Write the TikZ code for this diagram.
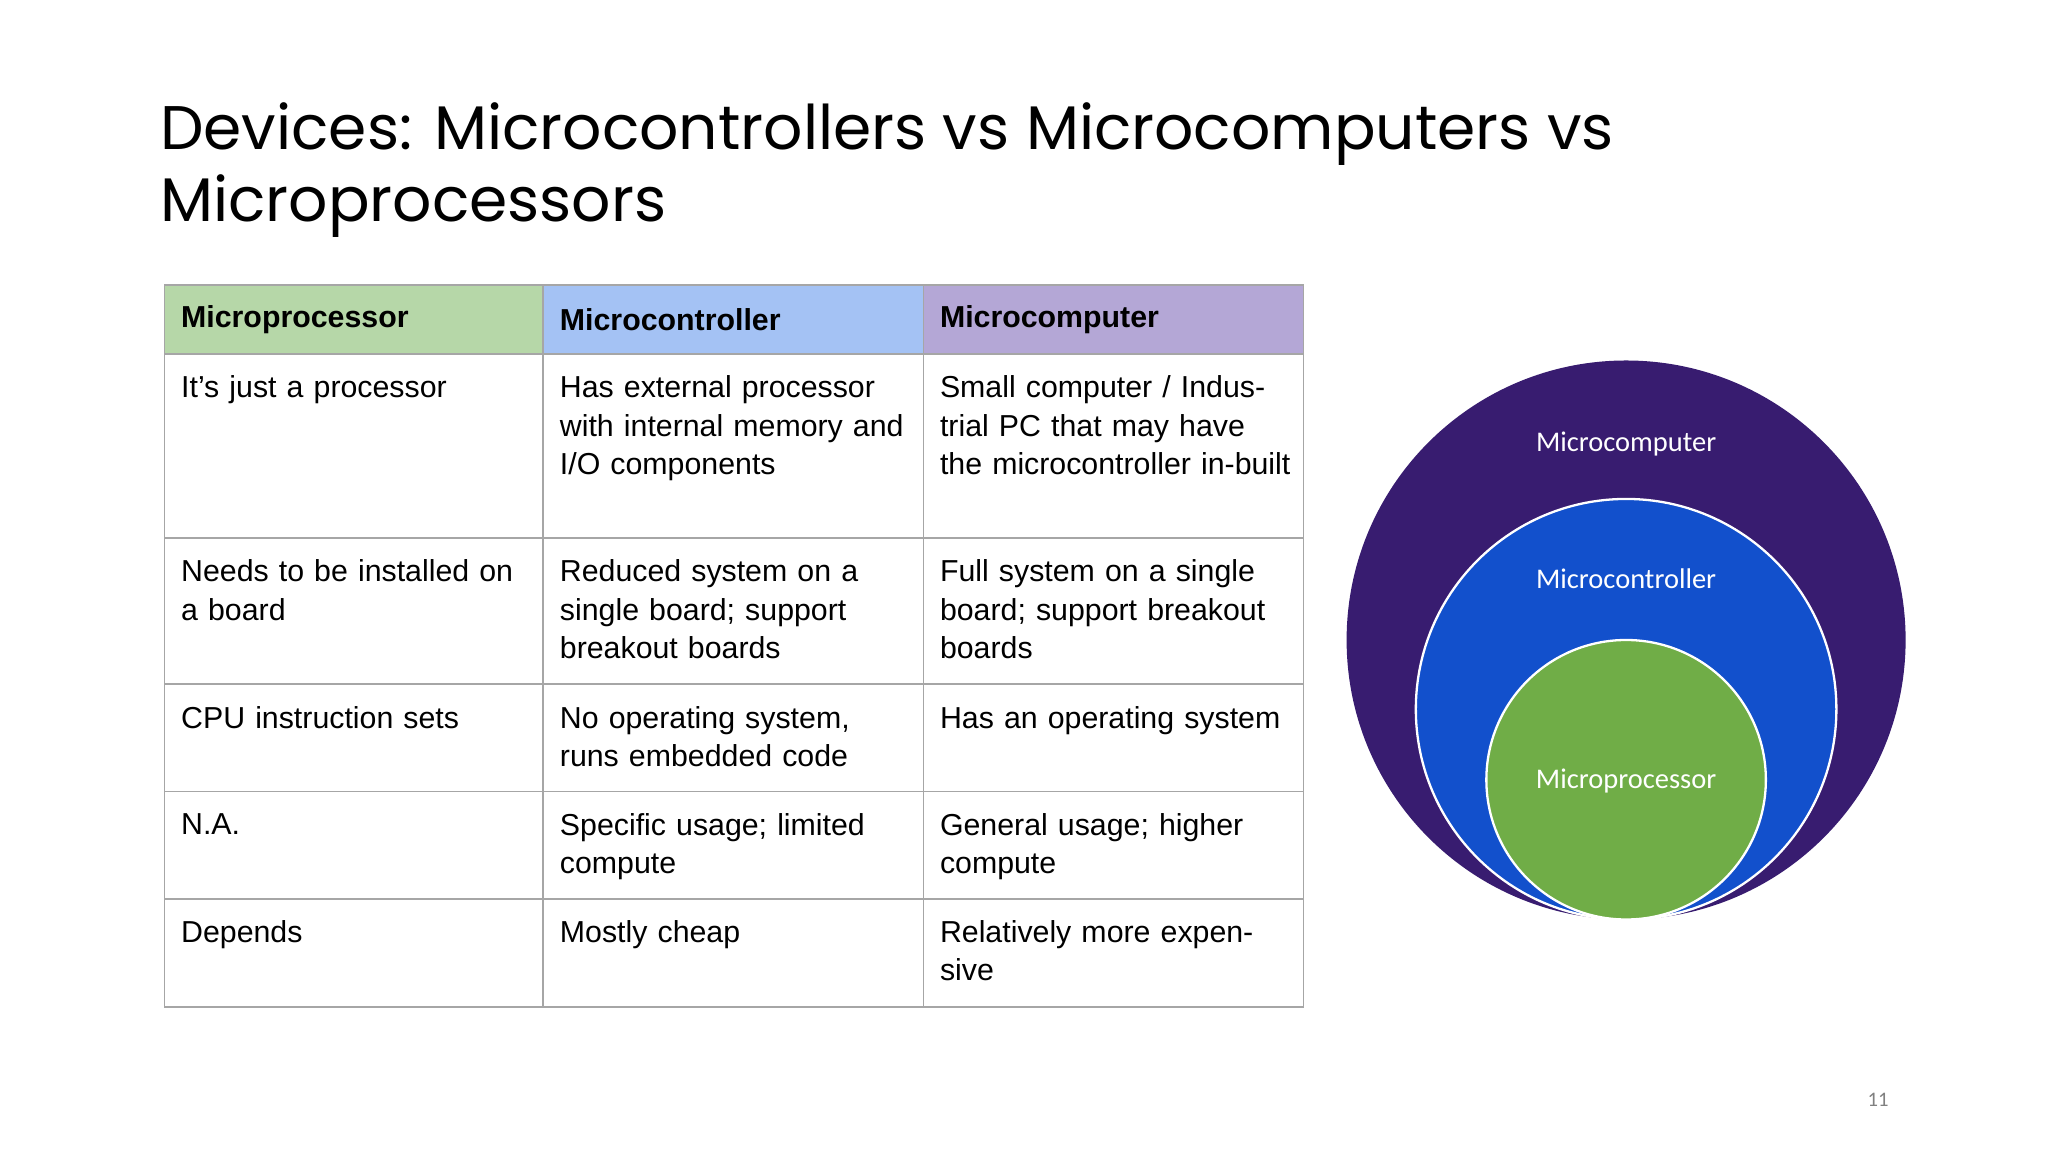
\documentclass[tikz,border=0pt]{standalone}
\usepackage{fontspec}
\setmainfont{Liberation Sans}
\newfontfamily\titlefont{Poppins}
\newfontfamily\calfont{Carlito}
\definecolor{hgreen}{HTML}{B6D7A8}
\definecolor{hblue}{HTML}{A4C2F4}
\definecolor{hpurple}{HTML}{B4A7D6}
\definecolor{gridc}{HTML}{A6A6A6}
\definecolor{cout}{HTML}{381C70}
\definecolor{cmid}{HTML}{1250CC}
\definecolor{cin}{HTML}{70AD47}
\tikzset{
 cell/.style={anchor=north west,inner sep=0pt,text width=2.72cm,align=left,font=\fontsize{6.6}{8.35}\selectfont},
 head/.style={anchor=west,inner sep=0pt,font=\fontsize{6.6}{8.35}\selectfont\bfseries},
 ring/.style={draw=white,line width=0.5pt},
 rlabel/.style={text=white,font=\calfont\fontsize{6.2}{7}\selectfont}
}
\begin{document}
\begin{tikzpicture}[x=0.01cm,y=-0.01cm]
\useasboundingbox (0,0) rectangle (1568,882);
\fill[white] (0,0) rectangle (1568,882);
\node[anchor=north west,inner sep=0pt,align=left,font=\titlefont\fontsize{13.4}{15.6}\selectfont] (title) at (122,78) {Devices: Microcontrollers vs Microcomputers vs\\Microprocessors};
% header
\fill[hgreen] (126,218) rectangle (416,271);
\fill[hblue] (416,218) rectangle (707,271);
\fill[hpurple] (707,218) rectangle (998,271);
\draw[gridc,line width=0.4pt] (126,218) rectangle (998,771);
\foreach \x in {416,707} \draw[gridc,line width=0.4pt] (\x,218) -- (\x,771);
\foreach \y in {271,412,524,606,688} \draw[gridc,line width=0.4pt] (126,\y) -- (998,\y);
\node[head] (h1) at (138,245) {Microprocessor};
\node[head] (h2) at (428,245) {Microcontroller};
\node[head] (h3) at (719,245) {Microcomputer};
\node[cell] (a1) at (138,287) {It’s just a processor};
\node[cell] (b1) at (428,287) {Has external processor with internal memory and I/O components};
\node[cell] (c1) at (719,287) {Small computer / Industrial PC that may have the microcontroller in-built};
\node[cell] (a2) at (138,428) {Needs to be installed on a board};
\node[cell] (b2) at (428,428) {Reduced system on a single board; support breakout boards};
\node[cell] (c2) at (719,428) {Full system on a single board; support breakout boards};
\node[cell] (a3) at (138,540) {CPU instruction sets};
\node[cell] (b3) at (428,540) {No operating system, runs embedded code};
\node[cell] (c3) at (719,540) {Has an operating system};
\node[cell] (a4) at (138,622) {N.A.};
\node[cell] (b4) at (428,622) {Specific usage; limited compute};
\node[cell] (c4) at (719,622) {General usage; higher compute};
\node[cell] (a5) at (138,704) {Depends};
\node[cell] (b5) at (428,704) {Mostly cheap};
\node[cell] (c5) at (719,704) {Relatively more expensive};
% circles
\fill[cout] (1245,490) circle (214);
\draw[ring,fill=cmid] (1245,543) circle (161);
\draw[ring,fill=cin] (1245,597) circle (107);
\node[rlabel] (l1) at (1245,340) {Microcomputer};
\node[rlabel] (l2) at (1245,443) {Microcontroller};
\node[rlabel] (l3) at (1245,598) {Microprocessor};
\node[text=gray,font=\calfont\fontsize{4.5}{5}\selectfont] (pg) at (1438,842) {11};
\end{tikzpicture}
\end{document}
